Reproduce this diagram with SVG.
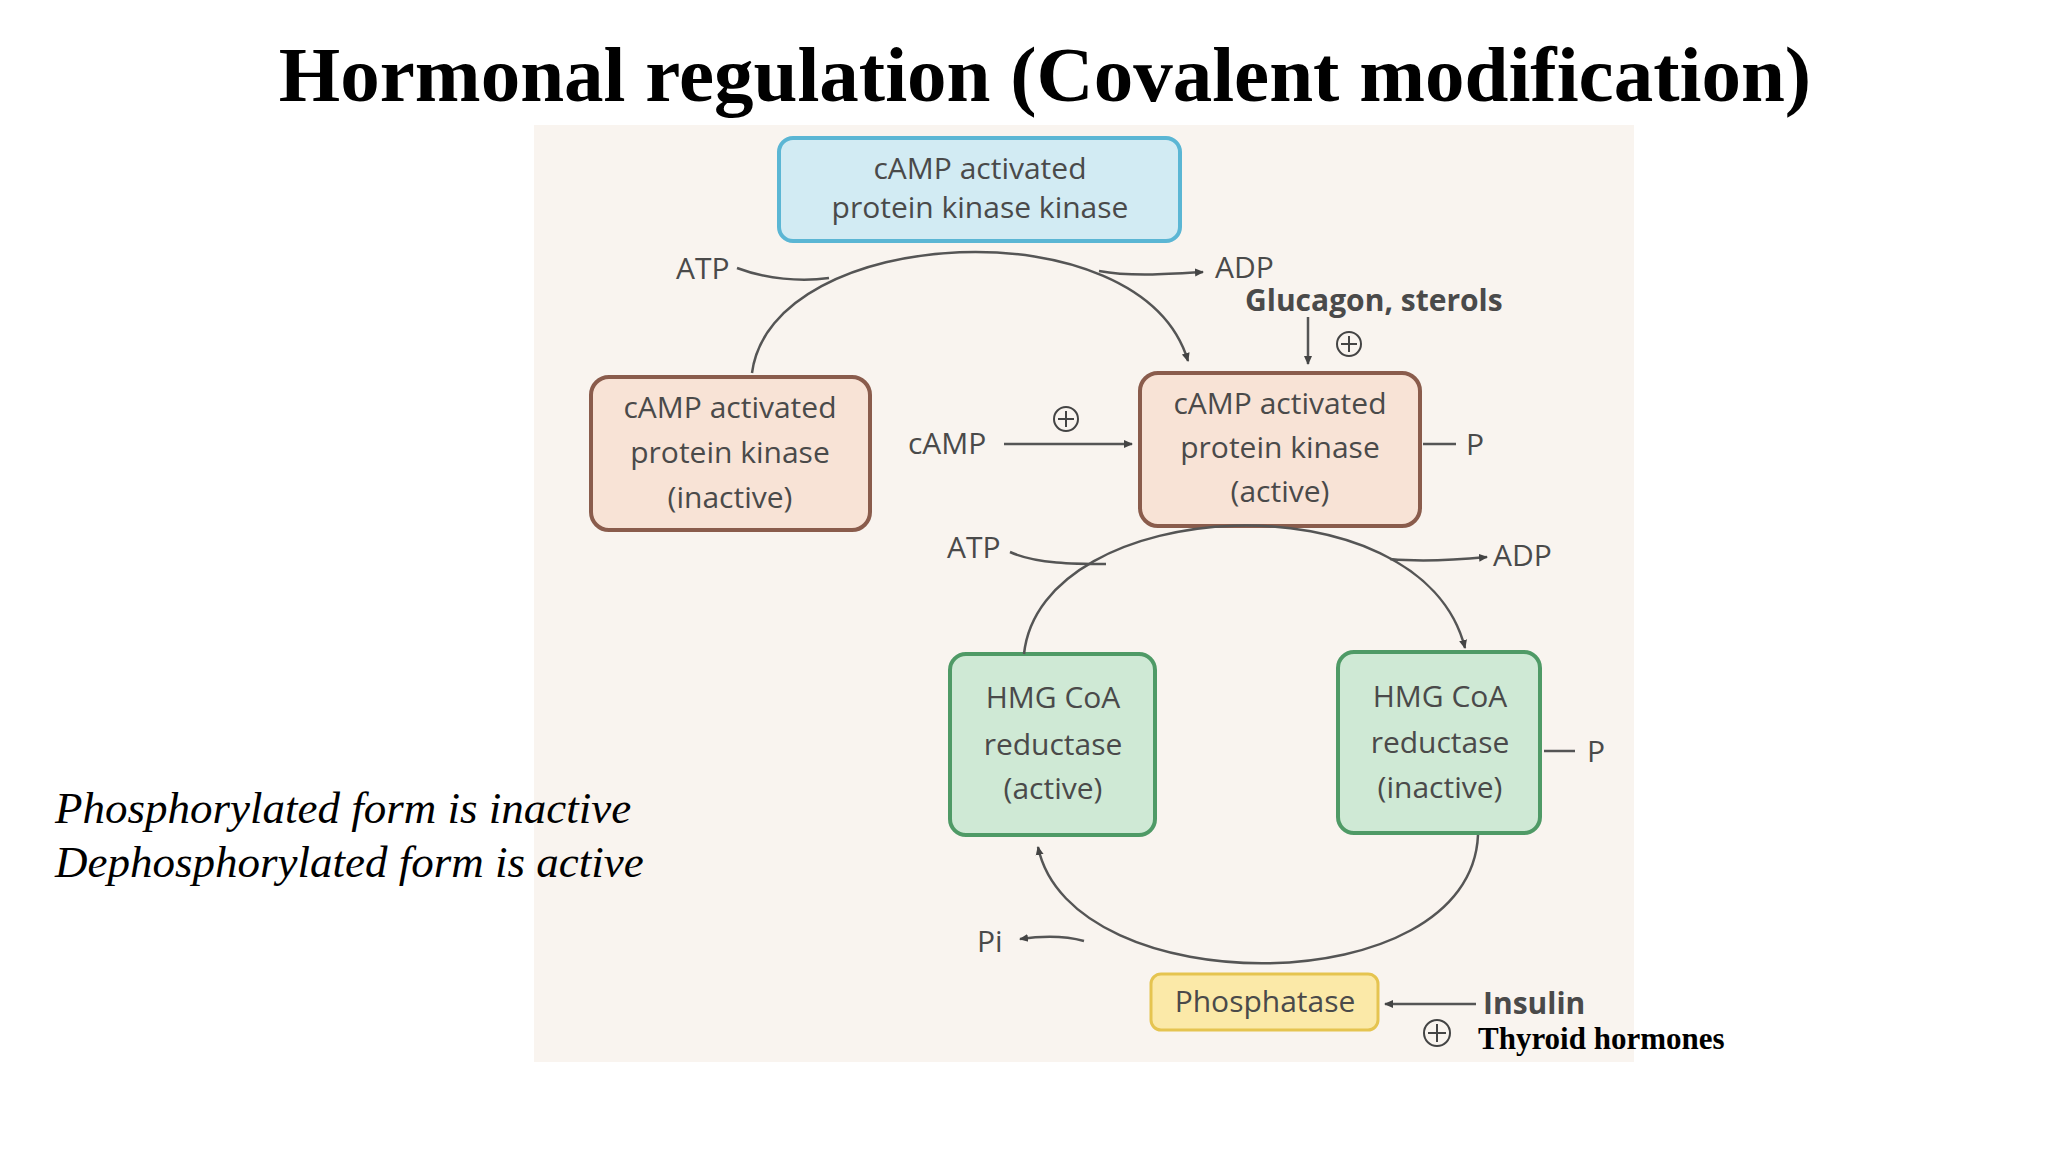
<svg xmlns="http://www.w3.org/2000/svg" width="2048" height="1152" viewBox="0 0 2048 1152">
<defs>
<marker id="ah" markerWidth="10" markerHeight="10" refX="8" refY="5" orient="auto" markerUnits="userSpaceOnUse"><path d="M0,1 L9,5 L0,9 Z" fill="#444"/></marker>
<style>
.t{font-family:"Open Sans","Noto Sans",sans-serif;font-size:30px;fill:#4a4a4a;text-anchor:middle}
.l{font-family:"Open Sans","Noto Sans",sans-serif;font-size:30px;fill:#4a4a4a}
.b{font-weight:bold}
.c{fill:none;stroke:#555;stroke-width:2.5}
.brown{fill:#f8e3d6;stroke:#8a5c4c;stroke-width:4}
.green{fill:#cfe9d5;stroke:#4f9a66;stroke-width:4}
</style>
</defs>
<rect width="2048" height="1152" fill="#fff"/>
<text x="1045" y="101" font-family="Liberation Serif,serif" font-size="79" font-weight="bold" text-anchor="middle">Hormonal regulation (Covalent modification)</text>
<g transform="translate(-9,-6)">
<rect x="543" y="131" width="1100" height="937" fill="#f9f4ef"/>
<g id="kk"><rect x="788" y="144" width="401" height="103" rx="14" fill="#d2ebf3" stroke="#5bb6d4" stroke-width="4"/><text class="t" x="989" y="185">cAMP activated</text><text class="t" x="989" y="224">protein kinase kinase</text></g>
<g id="pki"><rect class="brown" x="600" y="383" width="279" height="153" rx="18"/><text class="t" x="739" y="424">cAMP activated</text><text class="t" x="739" y="469">protein kinase</text><text class="t" x="739" y="514">(inactive)</text></g>
<g id="pka"><rect class="brown" x="1149" y="379" width="280" height="153" rx="18"/><text class="t" x="1289" y="420">cAMP activated</text><text class="t" x="1289" y="464">protein kinase</text><text class="t" x="1289" y="508">(active)</text></g>
<g id="hmga"><rect class="green" x="959" y="660" width="205" height="181" rx="16"/><text class="t" x="1062" y="714">HMG CoA</text><text class="t" x="1062" y="761">reductase</text><text class="t" x="1062" y="805">(active)</text></g>
<g id="hmgi"><rect class="green" x="1347" y="658" width="202" height="181" rx="16"/><text class="t" x="1449" y="713">HMG CoA</text><text class="t" x="1449" y="759">reductase</text><text class="t" x="1449" y="804">(inactive)</text></g>
<g id="ph"><rect x="1160" y="980" width="227" height="56" rx="10" fill="#fbe9a8" stroke="#e5c450" stroke-width="3"/><text class="t" x="1274" y="1018">Phosphatase</text></g>
<g id="connectors">
<path class="c" d="M761,379 C780,230 1150,210 1197,367" marker-end="url(#ah)"/>
<path class="c" d="M746,274 C775,285 810,288 838,284"/>
<path class="c" d="M1108,277 C1140,283 1180,280 1212,278" marker-end="url(#ah)"/>
<path class="c" d="M1317,323 L1317,370" marker-end="url(#ah)"/>
<path class="c" d="M1013,450 L1141,450" marker-end="url(#ah)"/>
<path class="c" d="M1432,450 L1465,450"/>
<path class="c" d="M1033,660 C1050,500 1430,480 1474,654" marker-end="url(#ah)"/>
<path class="c" d="M1019,558 C1045,570 1085,570 1115,570"/>
<path class="c" d="M1399,565 C1430,568 1465,566 1496,563" marker-end="url(#ah)"/>
<path class="c" d="M1553,757 L1584,757"/>
<path class="c" d="M1487,841 C1480,1010 1080,1010 1047,853" marker-end="url(#ah)"/>
<path class="c" d="M1093,947 C1075,942 1050,942 1029,945" marker-end="url(#ah)"/>
<path class="c" d="M1485,1010 L1394,1010" marker-end="url(#ah)"/>
</g>
<g id="labels">
<text class="l" x="685" y="285">ATP</text>
<text class="l" x="1224" y="284">ADP</text>
<text class="l b" x="1254" y="317" font-size="29">Glucagon, sterols</text>
<text class="l" x="917" y="460">cAMP</text>
<text class="l" x="1475" y="461">P</text>
<text class="l" x="956" y="564">ATP</text>
<text class="l" x="1502" y="572">ADP</text>
<text class="l" x="1596" y="768">P</text>
<text class="l" x="986" y="958">Pi</text>
<text class="l b" x="1492" y="1020">Insulin</text>
<g fill="none" stroke="#444" stroke-width="2"><circle cx="1358" cy="350" r="12"/><path d="M1350,350 H1366 M1358,342 V358"/><circle cx="1075" cy="425" r="12"/><path d="M1067,425 H1083 M1075,417 V433"/><circle cx="1446" cy="1039" r="13"/><path d="M1437,1039 H1455 M1446,1030 V1048"/></g>
<text x="1487" y="1055" font-family="Liberation Serif,serif" font-size="31" font-weight="bold">Thyroid hormones</text>
</g>
</g>
<text x="55" y="823" font-family="Liberation Serif,serif" font-size="45" font-style="italic">Phosphorylated form is inactive</text>
<text x="55" y="877" font-family="Liberation Serif,serif" font-size="45" font-style="italic">Dephosphorylated form is active</text>
</svg>
